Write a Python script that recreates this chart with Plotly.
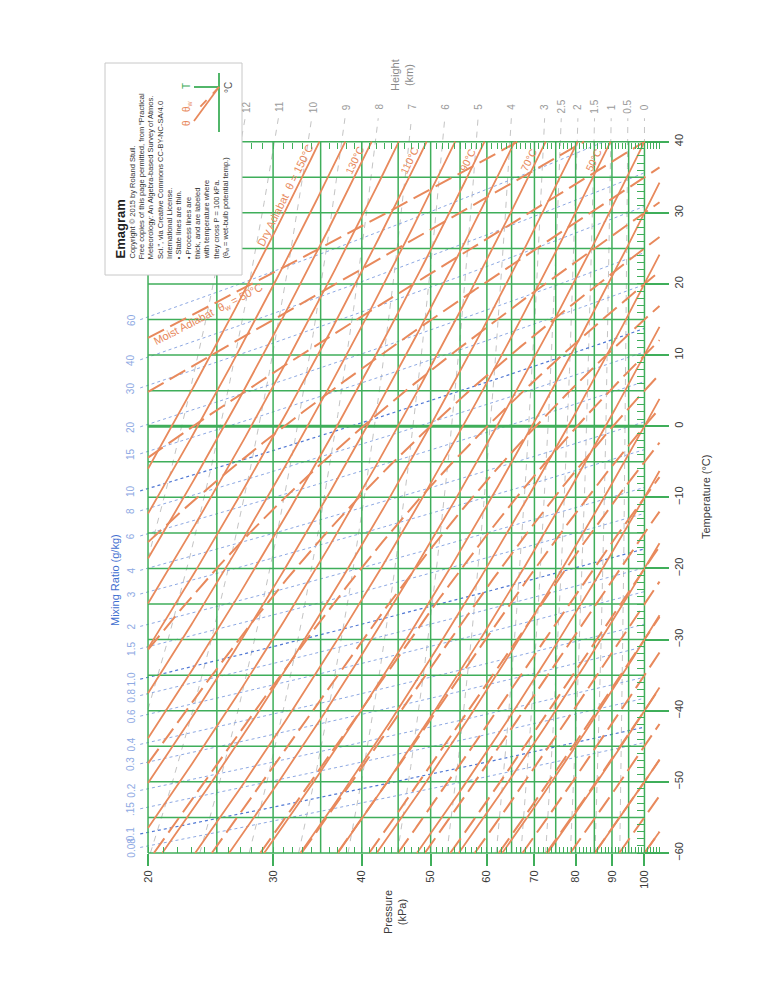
import numpy as np
import plotly.graph_objects as go

# ---- values ----
isotherms = list(range(-60, 45, 5))           # deg C, green state lines
isobars = list(range(20, 105, 5))             # kPa, green state lines
pressure_ticks = [20, 30, 40, 50, 60, 70, 80, 90, 100]
temperature_ticks = [-60, -50, -40, -30, -20, -10, 0, 10, 20, 30, 40]
dry_thetas = list(range(-60, 160, 10))        # theta (deg C) where line crosses P = 100 kPa
dry_labels = [150, 130, 110, 90, 70, 50]
moist_thetas = list(range(-60, 55, 5))        # theta_w (deg C) where line crosses P = 100 kPa
moist_label = 50
mix_ratios = [0.08, 0.1, 0.15, 0.2, 0.3, 0.4, 0.6, 0.8, 1.0, 1.5, 2, 3, 4, 6, 8, 10, 15, 20, 30, 40, 60]  # g/kg
mix_text = ['0.08', '0.1', '.15', '0.2', '0.3', '0.4', '0.6', '0.8', '1.0', '1.5', '2', '3', '4',
            '6', '8', '10', '15', '20', '30', '40', '60']
mix_strong = [0.1, 1.0, 10]
heights = [0, 0.5, 1, 1.5, 2, 2.5, 3, 4, 5, 6, 7, 8, 9, 10, 11, 12]  # km
height_text = ['0', '0.5', '1', '1.5', '2', '2.5', '3', '4', '5', '6', '7', '8', '9', '10', '11', '12']
notes = ['Copyright © 2015 by Roland Stull.',
         'Free copies of this page permitted, from “Practical',
         'Meteorology: An Algebra-based Survey of Atmos.',
         'Sci.”, via Creative Commons CC-BY-NC-SA/4.0',
         'International License.',
         '• State lines are thin.',
         '• Process lines are',
         'thick, and are labeled',
         'with temperature where',
         'they cross P = 100 kPa.',
         '(θ<sub>w</sub> = wet-bulb potential temp.)']

# ---- physics ----
RD, CP, LV, EPS, G = 287.04, 1004.67, 2.5e6, 0.622, 9.8
KAPPA = RD / CP
P_TOP, P_BASE, P_END = 20.0, 100.0, 105.0
T_MIN, T_MAX = -60.0, 40.0

# ---- page geometry (pixels) ----
W, H = 768, 993
L, R, TOP, BOT = 110, 700, 85, 870
X_RANGE = [1.2475, 2.0782]      # log10 kPa
Y_RANGE = [-62.39, 47.97]       # deg C
XS = (R - L) / (X_RANGE[1] - X_RANGE[0])
YS = (BOT - TOP) / (Y_RANGE[1] - Y_RANGE[0])

GREEN = '#3fae5a'
ORANGE = '#e8895c'
BLUE = '#8ea9e3'
BLUE_DARK = '#4f77d4'
GRAY = '#c4c4c4'
TEXT = '#3a3a3a'
FONT = 'Liberation Sans, Arial, sans-serif'


def fx(p):
    return (np.log10(p) - X_RANGE[0]) / (X_RANGE[1] - X_RANGE[0])


def fy(t):
    return (t - Y_RANGE[0]) / (Y_RANGE[1] - Y_RANGE[0])


def px(x):
    return (x - L) / (R - L)


def py(y):
    return (BOT - y) / (BOT - TOP)


def es(tk):
    return 0.6113 * np.exp(5423.0 * (1 / 273.15 - 1 / tk))


def dewpoint(r_gkg, p):
    r = r_gkg / 1000.0
    e = r * p / (EPS + r)
    return 1 / (1 / 273.15 - np.log(e / 0.6113) / 5423.0) - 273.15


def dry_p(theta, t):
    return 100 * ((t + 273.15) / (theta + 273.15)) ** (1 / KAPPA)


def moist_rate(tk, p):
    e = es(tk)
    r = EPS * e / (p - e)
    return (RD * tk + LV * r) / (CP + LV * LV * r * EPS / (RD * tk * tk))


def moist_curve(thw):
    parts = []
    for p_end in (P_TOP, P_END):
        lp = np.linspace(np.log(P_BASE), np.log(p_end), 400)
        tk = np.empty_like(lp)
        tk[0] = thw + 273.15
        for i in range(1, len(lp)):
            h = lp[i] - lp[i - 1]
            p0, pm, p1 = np.exp(lp[i - 1]), np.exp(lp[i - 1] + h / 2), np.exp(lp[i])
            k1 = moist_rate(tk[i - 1], p0)
            k2 = moist_rate(tk[i - 1] + h * k1 / 2, pm)
            k3 = moist_rate(tk[i - 1] + h * k2 / 2, pm)
            k4 = moist_rate(tk[i - 1] + h * k3, p1)
            tk[i] = tk[i - 1] + h * (k1 + 2 * k2 + 2 * k3 + k4) / 6
        parts.append((np.exp(lp), tk - 273.15))
    p = np.concatenate([parts[0][0][::-1], parts[1][0][1:]])
    t = np.concatenate([parts[0][1][::-1], parts[1][1][1:]])
    return p, t


def clip_curve(p, t, pmin, pmax, tmin=T_MIN, tmax=T_MAX):
    lp = np.log(p)
    a, b = np.log(pmin), np.log(pmax)
    if t[0] < tmin:
        a = max(a, np.interp(tmin, t, lp))
    if t[-1] > tmax:
        b = min(b, np.interp(tmax, t, lp))
    if a >= b:
        return None
    keep = (lp > a) & (lp < b)
    lp2 = np.concatenate([[a], lp[keep], [b]])
    return np.exp(lp2), np.interp(lp2, lp, t)


fig = go.Figure()


def add_lines(curves, xaxis='x', **line):
    xs, ys = [], []
    for c in curves:
        if c is None:
            continue
        xs += list(c[0]) + [None]
        ys += list(c[1]) + [None]
    fig.add_trace(go.Scatter(x=xs, y=ys, mode='lines', line=line, xaxis=xaxis,
                             hoverinfo='skip', showlegend=False))


# height contours (thin, grey dashed)
height_curves = []
for z in heights:
    if z == 0:
        height_curves.append((np.array([100.0, 100.0]), np.array([T_MIN, 43.3])))
        continue
    t0 = max(T_MIN, z * 1000 * G / (RD * np.log(5)) - 273.15)
    t = np.linspace(t0, 43.3, 120)
    height_curves.append((100 * np.exp(-z * 1000 * G / (RD * (t + 273.15))), t))
add_lines(height_curves, color=GRAY, width=1, dash='6px,6px')

# mixing ratio lines (thin, blue dotted)
pm = np.geomspace(19.5, P_BASE, 300)
add_lines([clip_curve(pm, dewpoint(r, pm), 19.5, P_BASE) for r in mix_ratios if r not in mix_strong],
          color=BLUE, width=1, dash='dot')
add_lines([clip_curve(pm, dewpoint(r, pm), 19.5, P_BASE) for r in mix_strong],
          color=BLUE_DARK, width=1.2, dash='dot')

# isobars and isotherms (thin, green)
grid = [(np.array([p, p]), np.array([T_MIN, T_MAX])) for p in isobars]
for t in isotherms:
    if t == 0:
        continue
    p_right = P_END if t in (T_MIN, T_MAX) else P_BASE
    grid.append((np.array([P_TOP, p_right]), np.array([t, t])))
add_lines(grid, color=GREEN, width=1.5)
add_lines([(np.array([P_TOP, P_BASE]), np.array([0.0, 0.0]))], color=GREEN, width=3)

# dry adiabats (thick, solid orange)
dry_curves = []
for th in dry_thetas:
    a = max(P_TOP, dry_p(th, T_MIN))
    b = min(P_END, dry_p(th, T_MAX))
    if a < b:
        p = np.geomspace(a, b, 150)
        dry_curves.append((p, (th + 273.15) * (p / 100) ** KAPPA - 273.15))
add_lines(dry_curves, color=ORANGE, width=1.8)

# moist adiabats (thick, dashed orange)
moist = {th: moist_curve(th) for th in moist_thetas}
add_lines([clip_curve(*moist[th], P_TOP, P_END) for th in moist_thetas], xaxis='x2',
          color=ORANGE, width=2, dash='18px,7px')

annotations = []


def note(x, y, text, size, color, angle=-90, ref='paper', **kw):
    opts = dict(xanchor='center', yanchor='middle')
    opts.update(kw)
    annotations.append(dict(x=x, y=y, xref=ref if ref == 'paper' else 'x',
                            yref=ref if ref == 'paper' else 'y', text=text, showarrow=False,
                            textangle=angle, font=dict(size=size, color=color, family=FONT), **opts))


# dry-adiabat labels
for th in dry_labels:
    tl = 32.5 if th == 150 else 37.4
    ang = np.degrees(np.arctan(YS * KAPPA * np.log(10) * (tl + 273.15) / XS))
    text = 'Dry Adiabat  θ = 150°C' if th == 150 else f'{th}°C'
    note(np.log10(dry_p(th, tl)), tl, text, 11 if th == 150 else 10.5, ORANGE, angle=-ang,
         ref='data', xshift=-8)

# moist-adiabat label
pw, tw = moist[moist_label]
p_lab = 24.3
t_lab = np.interp(np.log(p_lab), np.log(pw), tw)
slope = np.interp(np.log(p_lab), np.log(pw)[1:], np.diff(tw) / np.diff(np.log10(pw)))
ang = np.degrees(np.arctan(YS * slope / XS))
note(np.log10(p_lab), t_lab, f'Moist Adiabat  θ<sub>w</sub> = {moist_label}°C', 11, ORANGE,
     angle=-ang, ref='data', yshift=-8)

# mixing-ratio labels
for r, s in zip(mix_ratios, mix_text):
    note(np.log10(19.5), dewpoint(r, 19.5), s, 10, BLUE, ref='data', xshift=-9)
note(px(115), py(580), 'Mixing Ratio (g/kg)', 11, '#3f6fd0')

# height labels
for z, s in zip(heights, height_text):
    p_lab = 100 * np.exp(-z * 1000 * G / (RD * (44.9 + 273.15)))
    note(np.log10(p_lab), 44.9, s, 10, '#9a9a9a', ref='data')
note(px(402), py(75), 'Height<br>(km)', 11, '#8a8a8a')

note(px(706), py(497), 'Temperature (°C)', 11, TEXT)
note(px(395), py(912), 'Pressure<br>(kPa)', 11, TEXT)

# info box
shapes = [dict(type='rect', xref='paper', yref='paper', x0=px(105), x1=px(242), y0=py(275), y1=py(63),
               line=dict(color='#c8c8c8', width=1), fillcolor='white', layer='above')]
note(px(120), py(261), '<b>Emagram</b>', 13, '#222', yanchor='bottom')
for i, s in enumerate(notes):
    note(px(132 + 9.35 * i), py(261), s, 7.5, '#333', yanchor='bottom')
for (x0, y0, x1, y1, c, d) in [(219, 73, 219, 132, GREEN, 'solid'), (194, 87, 219, 87, GREEN, 'solid'),
                               (219, 87, 194, 121, ORANGE, 'solid'), (219, 87, 199, 108, ORANGE, 'dash')]:
    shapes.append(dict(type='line', xref='paper', yref='paper', x0=px(x0), y0=py(y0), x1=px(x1), y1=py(y1),
                       line=dict(color=c, width=1.8, dash=d), layer='above'))
note(px(186), py(86), 'T', 10, GREEN)
note(px(186), py(123), 'θ', 10, ORANGE)
note(px(187), py(106), 'θ<sub>w</sub>', 10, ORANGE)
note(px(228), py(88), '°C', 10, '#555')

tickfont = dict(size=11, color=TEXT, family=FONT)
fig.update_layout(
    width=W, height=H,
    margin=dict(l=L, r=W - R, t=TOP, b=H - BOT, pad=0),
    paper_bgcolor='white', plot_bgcolor='white',
    showlegend=False,
    font=dict(family=FONT),
    xaxis=dict(type='log', range=X_RANGE, anchor='free', position=fy(T_MIN), side='bottom',
               showgrid=False, zeroline=False, showline=False,
               tickmode='array', tickvals=pressure_ticks, ticks='outside', ticklen=12, tickwidth=1.5,
               tickcolor=GREEN, tickangle=-90, tickfont=tickfont,
               minor=dict(tickmode='array', tickvals=list(range(20, 106)), ticks='inside', ticklen=6,
                          tickwidth=1, tickcolor=GREEN, showgrid=False)),
    xaxis2=dict(type='log', range=X_RANGE, overlaying='x', anchor='free', position=fy(T_MAX), side='top',
                showgrid=False, zeroline=False, showline=False, ticks='', showticklabels=False,
                minor=dict(tickmode='array', tickvals=list(range(20, 106)), ticks='inside', ticklen=6,
                           tickwidth=1, tickcolor=GREEN, showgrid=False)),
    yaxis=dict(range=Y_RANGE, anchor='free', position=fx(P_BASE), side='right',
               showgrid=False, zeroline=False, showline=False,
               tickmode='array', tickvals=temperature_ticks, ticks='outside', ticklen=24, tickwidth=1.5,
               tickcolor=GREEN, tickangle=-90, tickfont=tickfont,
               minor=dict(tickmode='array', tickvals=list(range(-60, 41)), ticks='inside', ticklen=7,
                          tickwidth=1, tickcolor=GREEN, showgrid=False)),
    annotations=annotations,
    shapes=shapes,
)

fig.write_html("out.html", config={'displayModeBar': False},
               post_script="document.body.style.margin='0';")
